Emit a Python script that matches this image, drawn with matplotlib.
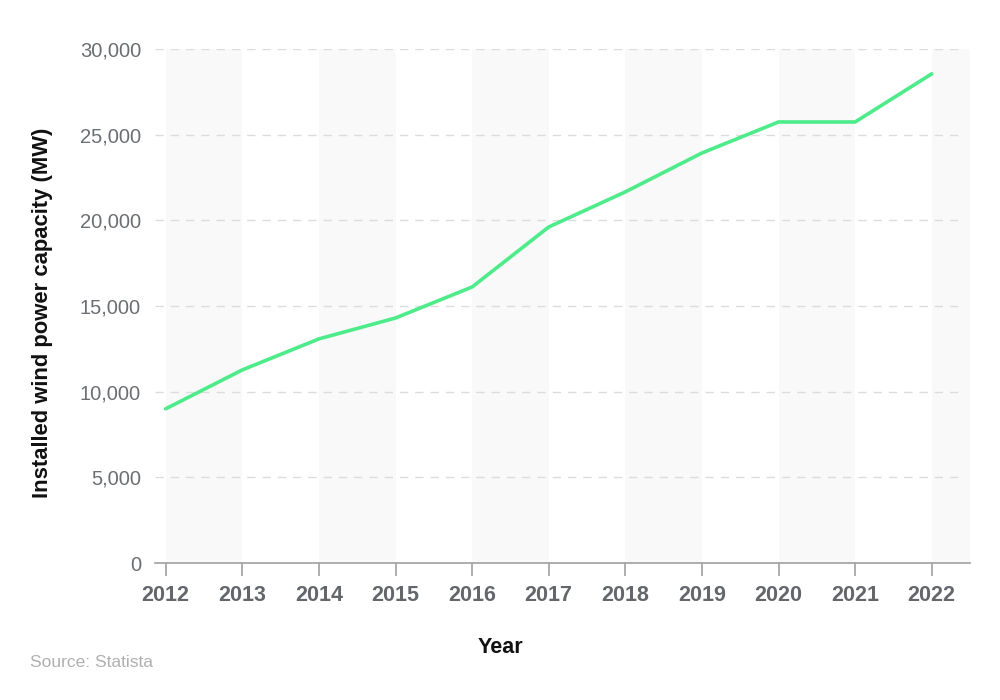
import matplotlib
matplotlib.use("Agg")
import matplotlib.pyplot as plt
from matplotlib.ticker import FuncFormatter

years = [2012, 2013, 2014, 2015, 2016, 2017, 2018, 2019, 2020, 2021, 2022]
capacity_mw = [9000, 11270, 13080, 14300, 16110, 19610, 21660, 23930, 25740, 25740, 28550]
y_ticks = [0, 5000, 10000, 15000, 20000, 25000, 30000]

plt.rcParams['font.family'] = ['Liberation Sans', 'DejaVu Sans']

fig = plt.figure(figsize=(10, 7), dpi=100)
ax = fig.add_axes([0.155, 0.1957, 0.815, 0.7343])

xmin, xmax = years[0] - 0.14, years[-1] + 0.5
for i in range(0, len(years), 2):
    x0 = years[i]
    x1 = min(years[i] + 1, xmax)
    ax.axvspan(x0, x1, color='#f9f9f9', zorder=0, lw=0)

for t in y_ticks[1:]:
    ax.axhline(t, xmin=0, xmax=(2022.4 - xmin) / (xmax - xmin), color='#dcdcdc', lw=1,
               dashes=(6, 5), zorder=1)

ax.plot(years, capacity_mw, color='#4deb8a', lw=2.6, solid_joinstyle='round',
        solid_capstyle='round', zorder=3)

ax.set_xlim(xmin, xmax)
ax.set_ylim(0, 30000)
ax.set_xticks(years)
ax.set_xticklabels([str(y) for y in years], fontsize=15.5, color='#63666a', fontweight='bold')
ax.set_yticks(y_ticks)
ax.yaxis.set_major_formatter(FuncFormatter(lambda v, p: f"{int(v):,}"))
for lab in ax.get_yticklabels():
    lab.set_fontsize(14.5)
    lab.set_color('#6b6e72')

for s in ['top', 'right', 'left']:
    ax.spines[s].set_visible(False)
ax.spines['bottom'].set_color('#a0a0a0')
ax.spines['bottom'].set_linewidth(1.2)
ax.tick_params(axis='x', length=9, width=1.2, color='#a0a0a0', pad=7)
ax.tick_params(axis='y', length=0, pad=10)

fig.text(0.5, 0.075, 'Year', fontsize=15.5, fontweight='bold', color='#111111',
         ha='center', va='center')
fig.text(0.043, 0.553, 'Installed wind power capacity (MW)', fontsize=15.8, fontweight='bold',
         color='#111111', rotation=90, ha='center', va='center')

fig.text(0.03, 0.054, 'Source: Statista', fontsize=12.5, color='#b0b0b0', va='center')

fig.savefig('out.png', dpi=100)
